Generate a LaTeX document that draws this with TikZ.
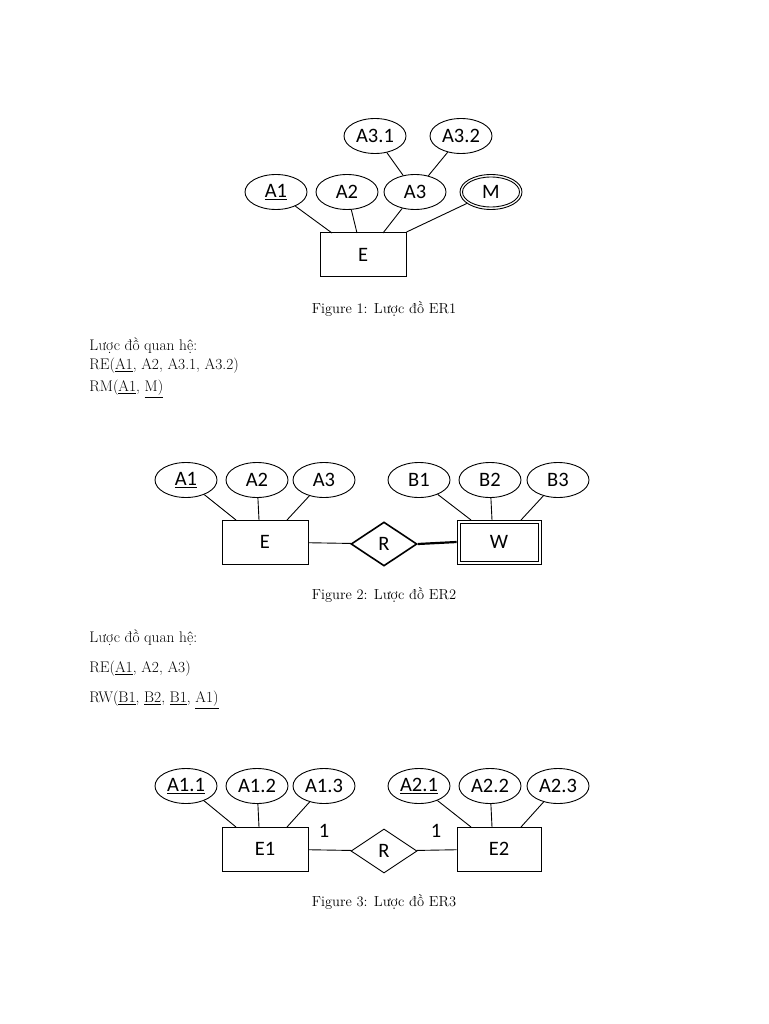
\documentclass[tikz,border=0pt]{standalone}
\usepackage{fontspec}
\newfontfamily\lab{Carlito}
\usetikzlibrary{shapes.geometric}
\begin{document}
\begin{tikzpicture}[x=1pt,y=-1pt,line width=0.9pt,
 attr/.style={draw,ellipse,minimum width=62pt,minimum height=35pt,inner sep=0pt,font=\lab\fontsize{20.5}{20.5}\selectfont},
 ent/.style={draw,rectangle,minimum width=86pt,minimum height=44pt,inner sep=0pt,font=\lab\fontsize{20.5}{20.5}\selectfont},
 rel/.style={draw,diamond,aspect=1.5,minimum width=66pt,minimum height=44pt,inner sep=0pt,font=\lab\fontsize{20.5}{20.5}\selectfont},
 figcap/.style={font=\fontsize{14.5}{14.5}\selectfont},
 txt/.style={anchor=west,inner sep=0pt,font=\fontsize{15.4}{15.4}\selectfont},
 lbl/.style={font=\lab\fontsize{20.5}{20.5}\selectfont}]
\useasboundingbox (0,0) rectangle (768,1024);
\fill[white] (0,0) rectangle (768,1024);
% Figure 1
\node[ent] (E) at (363,254.5) {E};
\node[attr] (a1) at (276,192) {\underline{A1}};
\node[attr] (a2) at (347,192) {A2};
\node[attr] (a3) at (415,192) {A3};
\node[attr] (m) at (491,192) {M};
\node[draw,ellipse,minimum width=57pt,minimum height=30pt,inner sep=0pt] (mi) at (491,192) {};
\node[attr] (a31) at (375,136) {A3.1};
\node[attr] (a32) at (461,136) {A3.2};
\coordinate (e1) at (332,233);
\coordinate (e2) at (357,233);
\coordinate (e3) at (383,233);
\draw (a1) -- (e1);
\draw (a2) -- (e2);
\draw (a3) -- (e3);
\draw (m) -- (E.north east);
\draw (a31) -- (a3);
\draw (a32) -- (a3);
\node[figcap] (c1) at (384,309) {Figure 1: Lược đồ ER1};
\node[txt] (t1) at (89,346) {Lược đồ quan hệ:};
\node[txt] (t2) at (89,366) {RE(\underline{A1}, A2, A3.1, A3.2)};
\node[txt] (t3) at (89,389) {RM(\underline{A1}, \underline{M)}};
% Figure 2
\node[ent] (E2) at (265,542) {E};
\node[ent,minimum width=84pt] (W) at (499,542) {W};
\node[draw,rectangle,minimum width=78pt,minimum height=38pt,inner sep=0pt] (Wi) at (499,542) {};
\node[rel,line width=1.6pt] (R2) at (384,544) {R};
\node[attr] (b1) at (186,480) {\underline{A1}};
\node[attr] (b2) at (257,480) {A2};
\node[attr] (b3) at (324,480) {A3};
\node[attr] (b4) at (419,480) {B1};
\node[attr] (b5) at (490,480) {B2};
\node[attr] (b6) at (558,480) {B3};
\coordinate (f1) at (236,520); \coordinate (f2) at (259,520); \coordinate (f3) at (287,520);
\coordinate (f4) at (471,520); \coordinate (f5) at (492,520); \coordinate (f6) at (521,520);
\draw (b1) -- (f1);
\draw (b2) -- (f2);
\draw (b3) -- (f3);
\draw (b4) -- (f4);
\draw (b5) -- (f5);
\draw (b6) -- (f6);
\draw (E2) -- (R2);
\draw[line width=2.2pt] (R2.east) -- (W.west);
\node[figcap] (c2) at (384,595) {Figure 2: Lược đồ ER2};
\node[txt] (u1) at (89,638) {Lược đồ quan hệ:};
\node[txt] (u2) at (89,669) {RE(\underline{A1}, A2, A3)};
\node[txt] (u3) at (89,700) {RW(\underline{B1}, \underline{B2}, \underline{B1}, \underline{A1)}};
% Figure 3
\node[ent] (F1) at (265,849) {E1};
\node[ent,minimum width=84pt] (F2) at (499,849) {E2};
\node[rel] (R3) at (384,851) {R};
\node[attr] (d1) at (186,786) {\underline{A1.1}};
\node[attr] (d2) at (257,786) {A1.2};
\node[attr] (d3) at (324,786) {A1.3};
\node[attr] (d4) at (419,786) {\underline{A2.1}};
\node[attr] (d5) at (490,786) {A2.2};
\node[attr] (d6) at (558,786) {A2.3};
\coordinate (g1) at (236,827); \coordinate (g2) at (259,827); \coordinate (g3) at (287,827);
\coordinate (g4) at (471,827); \coordinate (g5) at (492,827); \coordinate (g6) at (521,827);
\draw (d1) -- (g1);
\draw (d2) -- (g2);
\draw (d3) -- (g3);
\draw (d4) -- (g4);
\draw (d5) -- (g5);
\draw (d6) -- (g6);
\draw (F1) -- (R3);
\draw (R3) -- (F2);
\node[lbl] (n1) at (324,831) {1};
\node[lbl] (n2) at (436,831) {1};
\node[figcap] (c3) at (384,902) {Figure 3: Lược đồ ER3};
\end{tikzpicture}
\end{document}
